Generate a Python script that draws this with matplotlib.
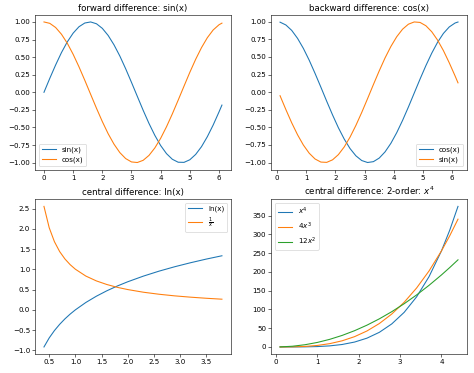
import matplotlib
matplotlib.use("Agg")
import matplotlib.pyplot as plt

# forward difference: sin(x)
x_fwd = [0.0, 0.2, 0.4, 0.6, 0.8, 1.0, 1.2, 1.4, 1.6, 1.8, 2.0, 2.2, 2.4, 2.6, 2.8, 3.0,
         3.2, 3.4, 3.6, 3.8, 4.0, 4.2, 4.4, 4.6, 4.8, 5.0, 5.2, 5.4, 5.6, 5.8, 6.0, 6.1]
sin_fwd = [0.000, 0.199, 0.389, 0.565, 0.717, 0.841, 0.932, 0.985, 1.000, 0.974, 0.909,
           0.808, 0.675, 0.516, 0.335, 0.141, -0.058, -0.256, -0.443, -0.612, -0.757,
           -0.872, -0.952, -0.994, -0.996, -0.959, -0.883, -0.773, -0.631, -0.465,
           -0.279, -0.182]
dsin_fwd = [1.000, 0.980, 0.921, 0.825, 0.697, 0.540, 0.362, 0.170, -0.029, -0.227,
            -0.416, -0.589, -0.737, -0.857, -0.942, -0.990, -0.998, -0.967, -0.897,
            -0.791, -0.654, -0.490, -0.307, -0.112, 0.087, 0.284, 0.469, 0.635, 0.776,
            0.886, 0.960, 0.983]

# backward difference: cos(x)
x_bwd = [0.1, 0.3, 0.5, 0.7, 0.9, 1.1, 1.3, 1.5, 1.7, 1.9, 2.1, 2.3, 2.5, 2.7, 2.9, 3.1,
         3.3, 3.5, 3.7, 3.9, 4.1, 4.3, 4.5, 4.7, 4.9, 5.1, 5.3, 5.5, 5.7, 5.9, 6.1, 6.2]
cos_bwd = [0.995, 0.955, 0.878, 0.765, 0.622, 0.454, 0.267, 0.071, -0.129, -0.323,
           -0.505, -0.666, -0.801, -0.904, -0.971, -0.999, -0.987, -0.936, -0.848,
           -0.726, -0.575, -0.401, -0.211, -0.012, 0.187, 0.378, 0.554, 0.709, 0.835,
           0.927, 0.983, 0.997]
dcos_bwd = [-0.050, -0.247, -0.435, -0.605, -0.751, -0.867, -0.949, -0.993, -0.997,
            -0.961, -0.887, -0.778, -0.638, -0.472, -0.288, -0.092, 0.108, 0.303, 0.487,
            0.650, 0.788, 0.895, 0.966, 0.998, 0.991, 0.944, 0.859, 0.740, 0.591, 0.418,
            0.231, 0.133]

# central difference: ln(x)
x_ln = [0.4, 0.5, 0.6, 0.7, 0.8, 0.9, 1.0, 1.2, 1.4, 1.6, 1.8, 2.0, 2.3, 2.6, 2.9, 3.2,
        3.5, 3.8]
ln_vals = [-0.916, -0.693, -0.511, -0.357, -0.223, -0.105, 0.000, 0.182, 0.336, 0.470,
           0.588, 0.693, 0.833, 0.956, 1.065, 1.163, 1.253, 1.335]
dln_vals = [2.554, 2.027, 1.682, 1.438, 1.257, 1.116, 1.003, 0.834, 0.715, 0.626, 0.556,
            0.501, 0.435, 0.385, 0.345, 0.313, 0.286, 0.263]

# central difference: 2-order x^4
x_pow = [0.1, 0.4, 0.7, 1.0, 1.3, 1.6, 1.9, 2.2, 2.5, 2.8, 3.1, 3.4, 3.7, 4.0, 4.2, 4.4]
pow4 = [0.0001, 0.026, 0.240, 1.0, 2.856, 6.554, 13.03, 23.43, 39.06, 61.47, 92.35,
        133.6, 187.4, 256.0, 311.2, 374.8]
d1_pow4 = [0.004, 0.256, 1.372, 4.0, 8.788, 16.38, 27.44, 42.59, 62.5, 87.81, 119.2,
           157.2, 202.6, 256.0, 296.4, 340.7]
d2_pow4 = [0.12, 1.92, 5.88, 12.0, 20.28, 30.72, 43.32, 58.08, 75.0, 94.08, 115.3,
           138.7, 164.3, 192.0, 211.7, 232.3]

DPI = 51.5
fig, axes = plt.subplots(2, 2, figsize=(474 / DPI, 373 / DPI))

ax = axes[0, 0]
ax.plot(x_fwd, sin_fwd, label="sin(x)")
ax.plot(x_fwd, dsin_fwd, label="cos(x)")
ax.set_title("forward difference: sin(x)")
ax.legend(loc="lower left")

ax = axes[0, 1]
ax.plot(x_bwd, cos_bwd, label="cos(x)")
ax.plot(x_bwd, dcos_bwd, label="sin(x)")
ax.set_title("backward difference: cos(x)")
ax.legend(loc="lower right")

ax = axes[1, 0]
ax.plot(x_ln, ln_vals, label="ln(x)")
ax.plot(x_ln, dln_vals, label=r"$\frac{1}{x}$")
ax.set_title("central difference: ln(x)")
ax.legend(loc="upper right")

ax = axes[1, 1]
ax.plot(x_pow, pow4, label=r"$x^4$")
ax.plot(x_pow, d1_pow4, label=r"$4x^3$")
ax.plot(x_pow, d2_pow4, label=r"$12x^2$")
ax.set_title("central difference: 2-order: $x^4$")
ax.legend(loc="upper left")

plt.subplots_adjust(left=0.074, right=0.985, top=0.96, bottom=0.051,
                    wspace=0.206, hspace=0.193)

plt.savefig("out.png", dpi=DPI)
